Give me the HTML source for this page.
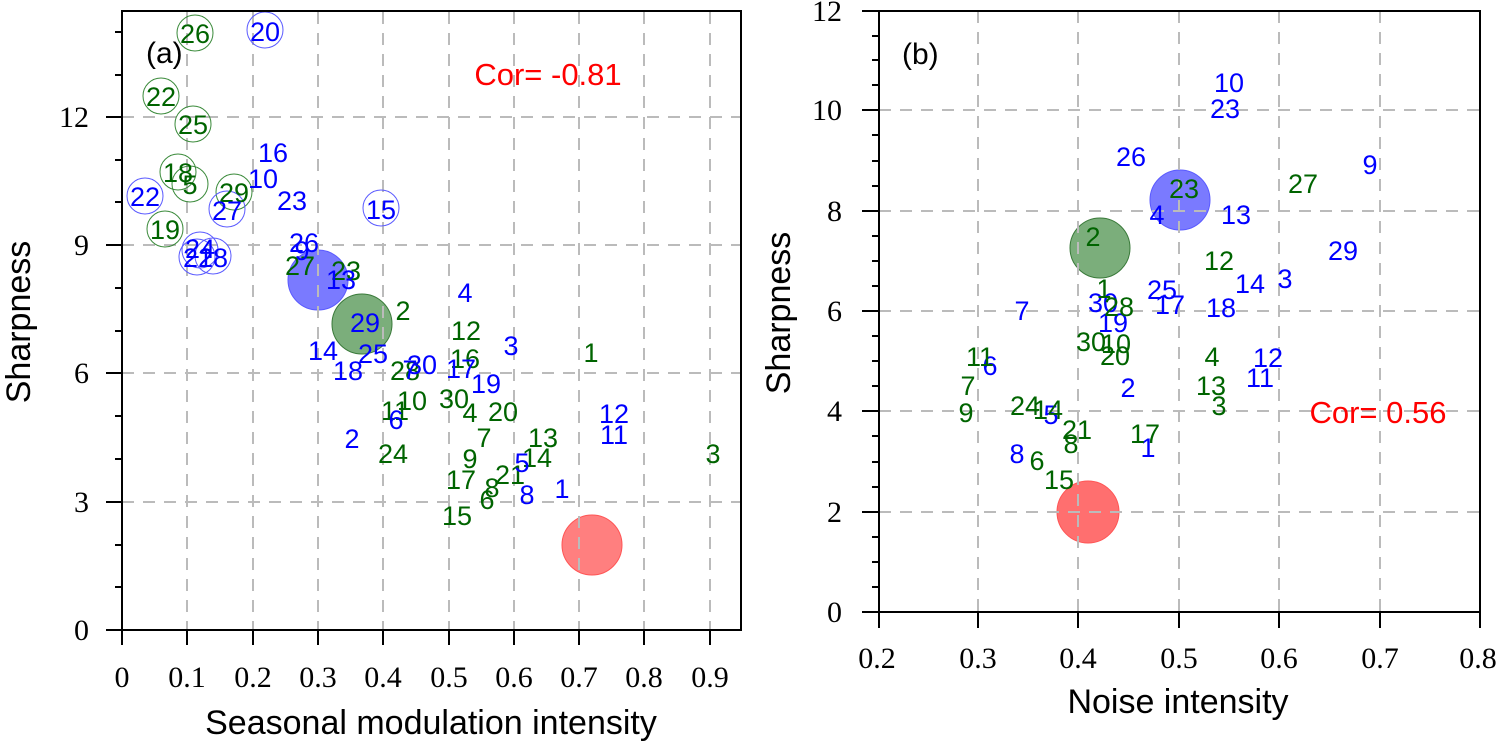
<!DOCTYPE html>
<html><head><meta charset="utf-8"><style>body{margin:0;background:#fff}svg{display:block}</style></head><body>
<svg width="1501" height="742" xmlns="http://www.w3.org/2000/svg" font-family="Liberation Sans, sans-serif">
<!-- Panel A -->
<g>
<circle cx="318" cy="280" r="30" fill="#7a7aff" stroke="#5a5aff" stroke-width="1"/>
<circle cx="362" cy="324" r="30" fill="#5a9a5a" fill-opacity="0.8" stroke="#3a7a3a"/>
<circle cx="592" cy="545" r="30" fill="#ff7f7f" stroke="#ff5555"/>
<g stroke="#bbb" stroke-width="2" stroke-dasharray="12,9">
<line x1="187" y1="12" x2="187" y2="630"/><line x1="253" y1="12" x2="253" y2="630"/><line x1="318" y1="12" x2="318" y2="630"/><line x1="383" y1="12" x2="383" y2="630"/><line x1="449" y1="12" x2="449" y2="630"/><line x1="514" y1="12" x2="514" y2="630"/><line x1="579" y1="12" x2="579" y2="630"/><line x1="644" y1="12" x2="644" y2="630"/><line x1="710" y1="12" x2="710" y2="630"/>
<line x1="122" y1="117" x2="741" y2="117"/><line x1="122" y1="245" x2="741" y2="245"/><line x1="122" y1="373" x2="741" y2="373"/><line x1="122" y1="502" x2="741" y2="502"/>
</g>
<g fill="none" stroke-width="1">
<circle cx="195" cy="33" r="18" stroke="#3a8a3a"/><circle cx="161" cy="96" r="18" stroke="#3a8a3a"/><circle cx="193" cy="124" r="18" stroke="#3a8a3a"/><circle cx="178" cy="172" r="18" stroke="#3a8a3a"/><circle cx="190" cy="184" r="18" stroke="#3a8a3a"/><circle cx="234" cy="192" r="18" stroke="#3a8a3a"/><circle cx="165" cy="229" r="18" stroke="#3a8a3a"/>
<circle cx="265" cy="30" r="18" stroke="#5a5aff"/><circle cx="145" cy="196" r="18" stroke="#5a5aff"/><circle cx="227" cy="209" r="18" stroke="#5a5aff"/><circle cx="381" cy="208" r="18" stroke="#5a5aff"/><circle cx="200" cy="250" r="18" stroke="#5a5aff"/><circle cx="197" cy="257" r="18" stroke="#5a5aff"/><circle cx="213" cy="256" r="18" stroke="#5a5aff"/>
</g>
<g font-size="27" text-anchor="middle" fill="#006400">
<text x="195" y="43">26</text><text x="161" y="106">22</text><text x="193" y="134">25</text><text x="178" y="182">18</text><text x="190" y="194">5</text><text x="234" y="202">29</text><text x="165" y="239">19</text><text x="300" y="275">27</text><text x="346" y="280">23</text><text x="403" y="320">2</text><text x="466" y="340">12</text><text x="465" y="368">16</text><text x="405" y="380">28</text><text x="395" y="420">11</text><text x="412" y="410">10</text><text x="454" y="408">30</text><text x="470" y="422">4</text><text x="503" y="421">20</text><text x="484" y="447">7</text><text x="543" y="447">13</text><text x="537" y="467">14</text><text x="470" y="468">9</text><text x="461" y="489">17</text><text x="510" y="484">21</text><text x="492" y="497">8</text><text x="487" y="509">6</text><text x="457" y="525">15</text><text x="393" y="463">24</text><text x="591" y="362">1</text><text x="713" y="463">3</text>
</g>
<g font-size="27" text-anchor="middle" fill="#0000ff">
<text x="265" y="41">20</text><text x="273" y="162">16</text><text x="263" y="188">10</text><text x="292" y="210">23</text><text x="145" y="206">22</text><text x="227" y="220">27</text><text x="381" y="219">15</text><text x="200" y="258">24</text><text x="198" y="267">21</text><text x="213" y="267">28</text><text x="304" y="252">26</text><text x="302" y="260">9</text><text x="341" y="289">13</text><text x="365" y="332">29</text><text x="323" y="360">14</text><text x="373" y="363">25</text><text x="348" y="380">18</text><text x="410" y="379">7</text><text x="422" y="374">30</text><text x="461" y="378">17</text><text x="486" y="393">19</text><text x="465" y="302">4</text><text x="511" y="355">3</text><text x="396" y="429">6</text><text x="352" y="448">2</text><text x="522" y="472">5</text><text x="527" y="504">8</text><text x="562" y="498">1</text><text x="614" y="423">12</text><text x="614" y="444">11</text>
</g>
<rect x="122" y="11" width="619" height="619" fill="none" stroke="#000" stroke-width="2"/>
<g stroke="#000" stroke-width="2">
<line x1="106" y1="630" x2="122" y2="630"/><line x1="106" y1="502" x2="122" y2="502"/><line x1="106" y1="373" x2="122" y2="373"/><line x1="106" y1="245" x2="122" y2="245"/><line x1="106" y1="117" x2="122" y2="117"/>
<line x1="115" y1="587" x2="122" y2="587"/><line x1="115" y1="545" x2="122" y2="545"/><line x1="115" y1="459" x2="122" y2="459"/><line x1="115" y1="416" x2="122" y2="416"/><line x1="115" y1="331" x2="122" y2="331"/><line x1="115" y1="288" x2="122" y2="288"/><line x1="115" y1="202" x2="122" y2="202"/><line x1="115" y1="160" x2="122" y2="160"/><line x1="115" y1="75" x2="122" y2="75"/><line x1="115" y1="32" x2="122" y2="32"/>
<line x1="122" y1="630" x2="122" y2="645"/><line x1="187" y1="630" x2="187" y2="645"/><line x1="253" y1="630" x2="253" y2="645"/><line x1="318" y1="630" x2="318" y2="645"/><line x1="383" y1="630" x2="383" y2="645"/><line x1="449" y1="630" x2="449" y2="645"/><line x1="514" y1="630" x2="514" y2="645"/><line x1="579" y1="630" x2="579" y2="645"/><line x1="644" y1="630" x2="644" y2="645"/><line x1="710" y1="630" x2="710" y2="645"/>
</g>
<g font-family="Liberation Serif, serif" font-size="30" text-anchor="middle">
<text x="122" y="687">0</text><text x="187" y="687">0.1</text><text x="253" y="687">0.2</text><text x="318" y="687">0.3</text><text x="383" y="687">0.4</text><text x="449" y="687">0.5</text><text x="514" y="687">0.6</text><text x="579" y="687">0.7</text><text x="644" y="687">0.8</text><text x="710" y="687">0.9</text>
<g text-anchor="end"><text x="89" y="640">0</text><text x="89" y="512">3</text><text x="89" y="383">6</text><text x="89" y="255">9</text><text x="89" y="127">12</text></g>
</g>
<text x="431" y="734" font-size="34" text-anchor="middle">Seasonal modulation intensity</text>
<text transform="translate(30,322) rotate(-90)" font-size="34" text-anchor="middle">Sharpness</text>
<text x="146" y="63" font-size="30">(a)</text>
<text x="548" y="85" font-size="31" text-anchor="middle" fill="#ff0000">Cor= -0.81</text>
</g>
<!-- Panel B -->
<g>
<circle cx="1180" cy="200" r="30" fill="#7a7aff" stroke="#5a5aff"/>
<circle cx="1100" cy="248" r="30" fill="#5a9a5a" fill-opacity="0.8" stroke="#3a7a3a"/>
<circle cx="1088" cy="512" r="31" fill="#ff6f6f" stroke="#ff5555"/>
<g stroke="#bbb" stroke-width="2" stroke-dasharray="12,9">
<line x1="978" y1="11" x2="978" y2="612"/><line x1="1078" y1="11" x2="1078" y2="612"/><line x1="1179" y1="11" x2="1179" y2="612"/><line x1="1279" y1="11" x2="1279" y2="612"/><line x1="1380" y1="11" x2="1380" y2="612"/>
<line x1="879" y1="512" x2="1480" y2="512"/><line x1="879" y1="411" x2="1480" y2="411"/><line x1="879" y1="311" x2="1480" y2="311"/><line x1="879" y1="211" x2="1480" y2="211"/><line x1="879" y1="110" x2="1480" y2="110"/>
</g>
<g font-size="27" text-anchor="middle" fill="#0000ff">
<text x="1229" y="92">10</text><text x="1225" y="118">23</text><text x="1131" y="166">26</text><text x="1157" y="224">4</text><text x="1236" y="224">13</text><text x="1370" y="174">9</text><text x="1343" y="260">29</text><text x="1285" y="288">3</text><text x="1250" y="293">14</text><text x="1221" y="317">18</text><text x="1162" y="299">25</text><text x="1170" y="314">17</text><text x="1103" y="312">30</text><text x="1113" y="332">19</text><text x="1022" y="320">7</text><text x="990" y="375">6</text><text x="1128" y="397">2</text><text x="1051" y="424">5</text><text x="1017" y="463">8</text><text x="1148" y="457">1</text><text x="1268" y="367">12</text><text x="1260" y="387">11</text>
</g>
<g font-size="27" text-anchor="middle" fill="#006400">
<text x="1184" y="198">23</text><text x="1303" y="193">27</text><text x="1093" y="246">2</text><text x="1219" y="270">12</text><text x="1104" y="298">1</text><text x="1119" y="316">28</text><text x="1091" y="351">30</text><text x="1116" y="353">10</text><text x="1115" y="365">20</text><text x="980" y="366">11</text><text x="968" y="395">7</text><text x="966" y="422">9</text><text x="1025" y="415">24</text><text x="1048" y="419">14</text><text x="1077" y="439">21</text><text x="1071" y="453">8</text><text x="1037" y="470">6</text><text x="1059" y="489">15</text><text x="1145" y="443">17</text><text x="1212" y="366">4</text><text x="1211" y="395">13</text><text x="1219" y="415">3</text>
</g>
<rect x="879" y="11" width="601" height="601" fill="none" stroke="#000" stroke-width="2"/>
<g stroke="#000" stroke-width="2">
<line x1="862" y1="612" x2="879" y2="612"/><line x1="862" y1="512" x2="879" y2="512"/><line x1="862" y1="411" x2="879" y2="411"/><line x1="862" y1="311" x2="879" y2="311"/><line x1="862" y1="211" x2="879" y2="211"/><line x1="862" y1="110" x2="879" y2="110"/><line x1="862" y1="11" x2="879" y2="11"/>
<line x1="872" y1="587" x2="879" y2="587"/><line x1="872" y1="562" x2="879" y2="562"/><line x1="872" y1="537" x2="879" y2="537"/><line x1="872" y1="487" x2="879" y2="487"/><line x1="872" y1="462" x2="879" y2="462"/><line x1="872" y1="436" x2="879" y2="436"/><line x1="872" y1="386" x2="879" y2="386"/><line x1="872" y1="361" x2="879" y2="361"/><line x1="872" y1="336" x2="879" y2="336"/><line x1="872" y1="286" x2="879" y2="286"/><line x1="872" y1="261" x2="879" y2="261"/><line x1="872" y1="236" x2="879" y2="236"/><line x1="872" y1="186" x2="879" y2="186"/><line x1="872" y1="161" x2="879" y2="161"/><line x1="872" y1="135" x2="879" y2="135"/><line x1="872" y1="85" x2="879" y2="85"/><line x1="872" y1="60" x2="879" y2="60"/><line x1="872" y1="36" x2="879" y2="36"/>
<line x1="879" y1="612" x2="879" y2="628"/><line x1="978" y1="612" x2="978" y2="628"/><line x1="1078" y1="612" x2="1078" y2="628"/><line x1="1179" y1="612" x2="1179" y2="628"/><line x1="1279" y1="612" x2="1279" y2="628"/><line x1="1380" y1="612" x2="1380" y2="628"/><line x1="1480" y1="612" x2="1480" y2="628"/>
</g>
<g font-family="Liberation Serif, serif" font-size="30" text-anchor="middle">
<text x="877" y="668">0.2</text><text x="978" y="668">0.3</text><text x="1078" y="668">0.4</text><text x="1179" y="668">0.5</text><text x="1279" y="668">0.6</text><text x="1380" y="668">0.7</text><text x="1478" y="668">0.8</text>
<g text-anchor="end"><text x="842" y="622">0</text><text x="842" y="522">2</text><text x="842" y="421">4</text><text x="842" y="321">6</text><text x="842" y="221">8</text><text x="842" y="120">10</text><text x="842" y="21">12</text></g>
</g>
<text x="1178" y="713" font-size="34" text-anchor="middle">Noise intensity</text>
<text transform="translate(790,313) rotate(-90)" font-size="34" text-anchor="middle">Sharpness</text>
<text x="902" y="64" font-size="30">(b)</text>
<text x="1378" y="423" font-size="31" text-anchor="middle" fill="#ff0000">Cor= 0.56</text>
</g>
</svg>
</body></html>
